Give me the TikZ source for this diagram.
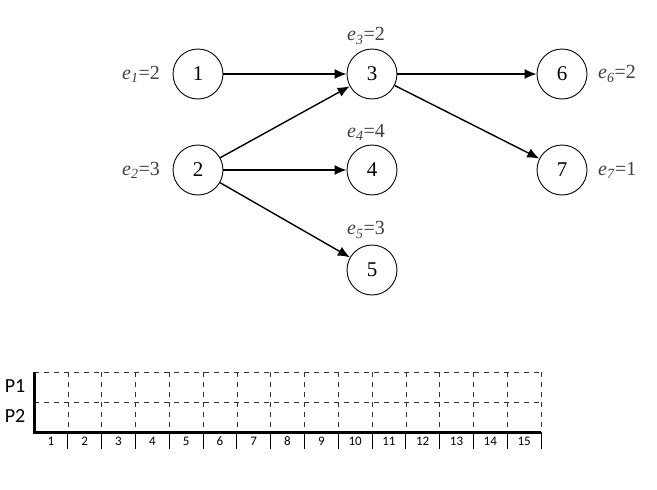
\documentclass[tikz,border=0pt]{standalone}
\usepackage{fontspec}
\setmainfont{Liberation Serif}
\newfontfamily\calib{Carlito}
\usetikzlibrary{arrows.meta}
\tikzset{
  task/.style={circle,draw,line width=0.9pt,minimum size=50pt,inner sep=0pt,font=\fontsize{21}{21}\selectfont},
  elab/.style={text=black!75,font=\fontsize{20}{20}\selectfont,inner sep=0pt},
  edge/.style={line width=1.4pt,-{Latex[length=12pt,width=10pt]}},
  grid/.style={line width=0.6pt,dash pattern=on 5pt off 5pt,black!80},
  axis/.style={line width=3pt},
  tick/.style={line width=0.7pt},
  plab/.style={font=\calib\fontsize{20}{20}\selectfont,inner sep=0pt},
  clab/.style={font=\calib\fontsize{13}{13}\selectfont,inner sep=0pt}
}
\newcommand{\elabel}[2]{\textit{e}\textsubscript{\textit{#1}}=#2}
\begin{document}
\begin{tikzpicture}[x=1pt,y=-1pt]
\useasboundingbox (0,0) rectangle (657,490);
\node[task] (n1) at (198,74) {1};
\node[task] (n3) at (372,74) {3};
\node[task] (n6) at (562,74) {6};
\node[task] (n2) at (198,170) {2};
\node[task] (n4) at (372,170) {4};
\node[task] (n7) at (562,170) {7};
\node[task] (n5) at (372,270) {5};
\node[elab,anchor=east] (l1) at (160,74) {\elabel{1}{2}};
\node[elab,anchor=east] (l2) at (160,170) {\elabel{2}{3}};
\node[elab] (l3) at (366,36) {\elabel{3}{2}};
\node[elab] (l4) at (366,132) {\elabel{4}{4}};
\node[elab] (l5) at (366,230) {\elabel{5}{3}};
\node[elab,anchor=west] (l6) at (598,74) {\elabel{6}{2}};
\node[elab,anchor=west] (l7) at (598,170) {\elabel{7}{1}};
\draw[edge] (n1) -- (n3);
\draw[edge] (n2) -- (n3);
\draw[edge] (n2) -- (n4);
\draw[edge] (n2) -- (n5);
\draw[edge] (n3) -- (n6);
\draw[edge] (n3) -- (n7);
% chart
\coordinate (o) at (34,432);
\coordinate (top) at (34,372);
\coordinate (xend) at (541,432);
\draw[grid] (34,372) -- (541,372);
\draw[grid] (34,402) -- (541,402);
\foreach \k in {1,...,15} {
  \draw[grid] (34+33.8*\k,372) -- (34+33.8*\k,432);
  \draw[tick] (34+33.8*\k,432) -- (34+33.8*\k,449);
  \node[clab] (c\k) at (34+33.8*\k-16.9,441) {\k};
}
\draw[axis] (top) -- (o) -- (xend);
\node[plab] (p1) at (15,386) {P1};
\node[plab] (p2) at (15,416) {P2};
\end{tikzpicture}
\end{document}
